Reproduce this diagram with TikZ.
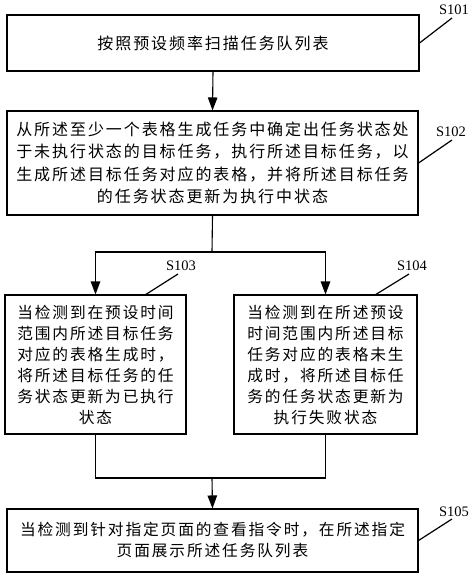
\documentclass[tikz,border=0pt]{standalone}
\usepackage{fontspec}
\setmainfont{Liberation Serif}
\newfontfamily\cjk[LetterSpace=12]{Noto Sans CJK SC}
\usetikzlibrary{arrows.meta}
\begin{document}
\begin{tikzpicture}[x=1pt,y=-1pt,
  box/.style={draw,line width=1.1pt,inner sep=0pt,align=center,font=\cjk\fontsize{16}{22.5}\selectfont},
  smallbox/.style={box,font=\cjk\fontsize{15.7}{21}\selectfont},
  conn/.style={line width=1.1pt},
  arr/.style={conn,-{Triangle[length=13pt,width=9.5pt]}},
  lab/.style={font=\fontsize{14.5}{16}\selectfont,inner sep=0pt},
  leader/.style={line width=1.2pt}]
\useasboundingbox (0,0) rectangle (474,579);
\node[box,minimum width=412pt,minimum height=56pt] (b1) at (213,43) {按照预设频率扫描任务队列表};
\node[box,minimum width=411pt,minimum height=104pt] (b2) at (212.5,163) {从所述至少一个表格生成任务中确定出任务状态处\\于未执行状态的目标任务，执行所述目标任务，以\\生成所述目标任务对应的表格，并将所述目标任务\\的任务状态更新为执行中状态};
\node[smallbox,minimum width=181pt,minimum height=139pt] (b3) at (95.5,364.5) {当检测到在预设时间\\范围内所述目标任务\\对应的表格生成时，\\将所述目标任务的任\\务状态更新为已执行\\状态};
\node[smallbox,minimum width=183pt,minimum height=139pt] (b4) at (325.5,364.5) {当检测到在所述预设\\时间范围内所述目标\\任务对应的表格未生\\成时，将所述目标任\\务的任务状态更新为\\执行失败状态};
\node[smallbox,minimum width=411pt,minimum height=63pt] (b5) at (212.5,540.5) {当检测到针对指定页面的查看指令时，在所述指定\\页面展示所述任务队列表};
% labels
\node[lab] (l1) at (454,10) {S101};
\node[lab] (l2) at (451,132) {S102};
\node[lab] (l3) at (181,266) {S103};
\node[lab] (l4) at (412,266) {S104};
\node[lab] (l5) at (454,512) {S105};
\coordinate (e1) at (452,18);
\coordinate (e2) at (452,140);
\coordinate (e3) at (178,274);
\coordinate (e4) at (409,274);
\coordinate (e5) at (452,519);
\draw[leader] (b1.east) -- (e1);
\draw[leader] (b2.east) -- (e2);
\draw[leader] (145,295) -- (e3);
\draw[leader] (375,295) -- (e4);
\draw[leader] (b5.east) -- (e5);
% connectors
\draw[arr] (b1.south) -- (b2.north);
\coordinate (split) at (212,252);
\draw[conn] (b2.south) -- (split);
\draw[arr] (split) -| (b3.north);
\draw[arr] (split) -| (b4.north);
\coordinate (merge) at (212,478);
\draw[conn] (b3.south) |- (merge);
\draw[conn] (b4.south) |- (merge);
\draw[arr] (merge) -- (b5.north);
\end{tikzpicture}
\end{document}
